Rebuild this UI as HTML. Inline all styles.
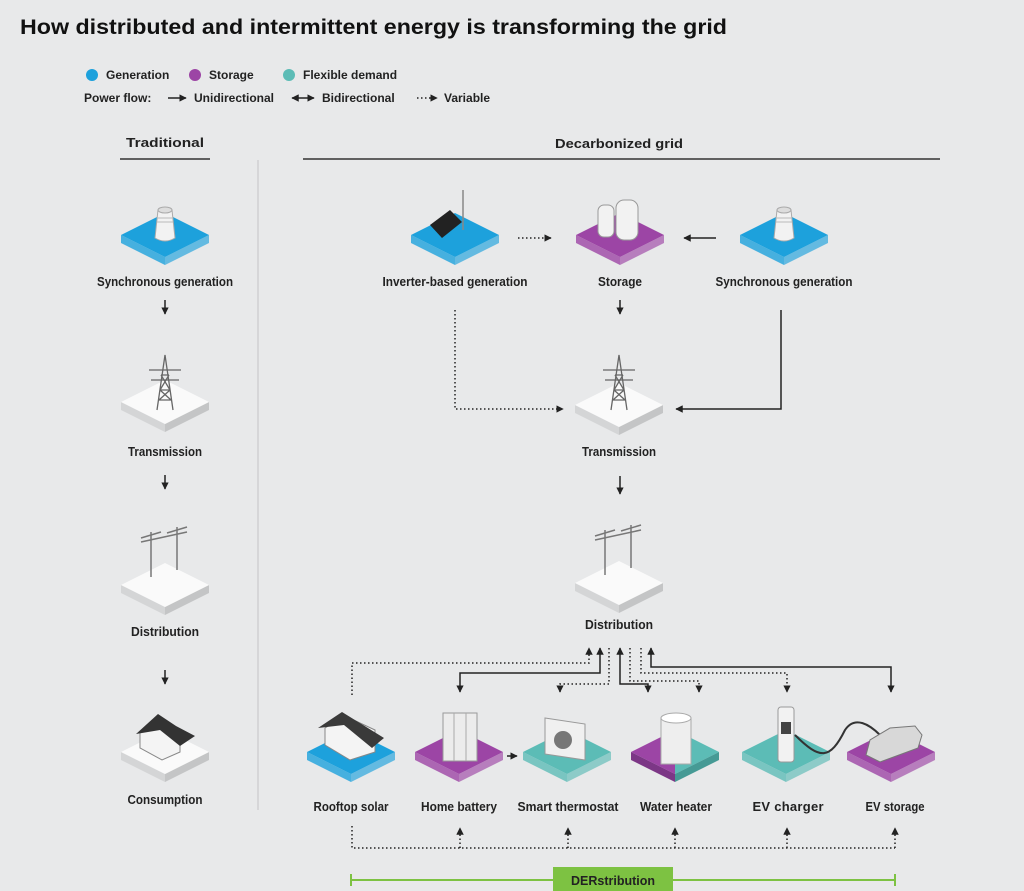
<!DOCTYPE html>
<html><head><meta charset="utf-8"><style>
html,body{margin:0;padding:0;background:#e8e9ea;}
svg{display:block}
text{font-family:"Liberation Sans Narrow","Liberation Sans",sans-serif;font-weight:bold;fill:#222;}
.l{font-size:13px;text-anchor:middle;}
</style></head><body>
<svg width="1024" height="891" viewBox="0 0 1024 891" xmlns="http://www.w3.org/2000/svg">
<defs>
<marker id="a" viewBox="0 0 10 10" refX="9" refY="5" markerWidth="5" markerHeight="5" orient="auto-start-reverse"><path d="M0,0L10,5L0,10z" fill="#222"/></marker>
<g id="tile"><path d="M-44,0L0,22L0,30L-44,8z" fill="currentColor" opacity="0.8"/><path d="M44,0L0,22L0,30L44,8z" fill="currentColor" opacity="0.65"/><path d="M-44,0L0,-22L44,0L0,22z" fill="currentColor"/></g>
<g id="wtile"><path d="M-44,0L0,22L0,30L-44,8z" fill="#d4d5d6"/><path d="M44,0L0,22L0,30L44,8z" fill="#c4c5c6"/><path d="M-44,0L0,-22L44,0L0,22z" fill="#fafafa"/></g>
<g id="tower" fill="none" stroke="#666" stroke-width="1.3"><path d="M-8,10L0,-45L8,10M-5,-10L5,-10M-6,0L6,0M-4,-25L4,-25M-16,-30L16,-30M-14,-20L14,-20M-5,-10L6,0M5,-10L-6,0M-4,-25L5,-10M4,-25L-5,-10"/></g>
<g id="poles" fill="none" stroke="#777" stroke-width="1.5"><path d="M-14,5L-14,-40M12,-2L12,-45M-24,-34L-4,-40M2,-39L22,-45M-24,-30L22,-40"/></g>
<g id="cool"><path d="M-10,-2L-7,-30L7,-30L10,-2Q0,4 -10,-2z" fill="#f2f2f2" stroke="#aaa"/><ellipse cx="0" cy="-30" rx="7" ry="3" fill="#ddd" stroke="#aaa"/><path d="M-8,-22L8,-22M-8,-18L8,-18" stroke="#bbb"/></g>
</defs>
<text x="20" y="34" textLength="707" lengthAdjust="spacingAndGlyphs" style="font-family:'Liberation Sans',sans-serif;font-size:21px;font-weight:bold;fill:#111">How distributed and intermittent energy is transforming the grid</text>
<circle cx="92" cy="75" r="6" fill="#1da1dc"/><text x="106" y="79" font-size="12">Generation</text>
<circle cx="195" cy="75" r="6" fill="#9c45a5"/><text x="209" y="79" font-size="12">Storage</text>
<circle cx="289" cy="75" r="6" fill="#5cbcb6"/><text x="303" y="79" font-size="12">Flexible demand</text>
<text x="84" y="102" font-size="12">Power flow:</text>
<line x1="168" y1="98" x2="186" y2="98" stroke="#222" stroke-width="1.5" marker-end="url(#a)"/><text x="194" y="102" font-size="12">Unidirectional</text>
<line x1="292" y1="98" x2="314" y2="98" stroke="#222" stroke-width="1.5" marker-end="url(#a)" marker-start="url(#a)"/><text x="322" y="102" font-size="12">Bidirectional</text>
<line x1="417" y1="98" x2="437" y2="98" stroke="#222" stroke-width="1.5" stroke-dasharray="1.5,2.5" marker-end="url(#a)"/><text x="444" y="102" font-size="12">Variable</text>
<text x="165" y="147" class="l" font-size="15" textLength="78" lengthAdjust="spacingAndGlyphs">Traditional</text>
<line x1="120" y1="159" x2="210" y2="159" stroke="#333" stroke-width="1.5"/>
<text x="619" y="148" class="l" font-size="15" textLength="128" lengthAdjust="spacingAndGlyphs">Decarbonized grid</text>
<line x1="303" y1="159" x2="940" y2="159" stroke="#333" stroke-width="1.5"/>
<line x1="258" y1="160" x2="258" y2="810" stroke="#cfd0d1" stroke-width="1.5"/>
<use href="#tile" x="165" y="235" color="#1da1dc"/><use href="#cool" x="165" y="240"/>
<text x="165" y="286" class="l" textLength="136" lengthAdjust="spacingAndGlyphs">Synchronous generation</text>
<line x1="165" y1="300" x2="165" y2="314" stroke="#222" stroke-width="1.5" marker-end="url(#a)"/>
<use href="#wtile" x="165" y="402"/><use href="#tower" x="165" y="400"/>
<text x="165" y="456" class="l" textLength="74" lengthAdjust="spacingAndGlyphs">Transmission</text>
<line x1="165" y1="475" x2="165" y2="489" stroke="#222" stroke-width="1.5" marker-end="url(#a)"/>
<use href="#wtile" x="165" y="585"/><use href="#poles" x="165" y="572"/>
<text x="165" y="636" class="l" textLength="68" lengthAdjust="spacingAndGlyphs">Distribution</text>
<line x1="165" y1="670" x2="165" y2="684" stroke="#222" stroke-width="1.5" marker-end="url(#a)"/>
<use href="#wtile" x="165" y="752"/>
<path d="M140,748L140,732L160,722L180,732L180,752L162,760z" fill="#f4f4f4" stroke="#888"/><path d="M136,734L158,714L176,726L195,736L180,746L160,730z" fill="#333"/>
<text x="165" y="804" class="l" textLength="75" lengthAdjust="spacingAndGlyphs">Consumption</text>
<use href="#tile" x="455" y="235" color="#1da1dc"/>
<path d="M430,225L450,210L462,222L442,238z" fill="#222"/><line x1="463" y1="230" x2="463" y2="190" stroke="#888" stroke-width="1.5"/>
<use href="#tile" x="620" y="235" color="#9c45a5"/>
<rect x="598" y="205" width="16" height="32" rx="6" fill="#f2f2f2" stroke="#999"/><rect x="616" y="200" width="22" height="40" rx="8" fill="#f2f2f2" stroke="#999"/>
<use href="#tile" x="784" y="235" color="#1da1dc"/><use href="#cool" x="784" y="240"/>
<text x="455" y="286" class="l" textLength="145" lengthAdjust="spacingAndGlyphs">Inverter-based generation</text>
<text x="620" y="286" class="l" textLength="44" lengthAdjust="spacingAndGlyphs">Storage</text>
<text x="784" y="286" class="l" textLength="137" lengthAdjust="spacingAndGlyphs">Synchronous generation</text>
<line x1="518" y1="238" x2="551" y2="238" stroke="#222" stroke-width="1.5" stroke-dasharray="1.5,2.5" marker-end="url(#a)"/>
<line x1="716" y1="238" x2="684" y2="238" stroke="#222" stroke-width="1.5" marker-end="url(#a)"/>
<line x1="620" y1="300" x2="620" y2="314" stroke="#222" stroke-width="1.5" marker-end="url(#a)"/>
<path d="M455,310L455,409L563,409" fill="none" stroke="#222" stroke-width="1.5" stroke-dasharray="1.5,2.5" marker-end="url(#a)"/>
<path d="M781,310L781,409L676,409" fill="none" stroke="#222" stroke-width="1.5" marker-end="url(#a)"/>
<use href="#wtile" x="619" y="405"/><use href="#tower" x="619" y="400"/>
<text x="619" y="456" class="l" textLength="74" lengthAdjust="spacingAndGlyphs">Transmission</text>
<line x1="620" y1="476" x2="620" y2="494" stroke="#222" stroke-width="1.5" marker-end="url(#a)"/>
<use href="#wtile" x="619" y="583"/><use href="#poles" x="619" y="570"/>
<text x="619" y="629" class="l" textLength="68" lengthAdjust="spacingAndGlyphs">Distribution</text>
<g fill="none" stroke="#222" stroke-width="1.5">
<path d="M352,695L352,663L589,663L589,648" stroke-dasharray="1.5,2.5" marker-end="url(#a)"/>
<path d="M600,648L600,673L460,673L460,692" marker-start="url(#a)" marker-end="url(#a)"/>
<path d="M609,648L609,684L560,684L560,692" stroke-dasharray="1.5,2.5" marker-end="url(#a)"/>
<path d="M620,648L620,684L648,684L648,692" marker-start="url(#a)" marker-end="url(#a)"/>
<path d="M630,648L630,681L699,681L699,692" stroke-dasharray="1.5,2.5" marker-end="url(#a)"/>
<path d="M641,648L641,673L787,673L787,692" stroke-dasharray="1.5,2.5" marker-end="url(#a)"/>
<path d="M651,648L651,667L891,667L891,692" marker-start="url(#a)" marker-end="url(#a)"/>
</g>
<use href="#tile" x="351" y="752" color="#1da1dc"/>
<path d="M325,745L325,728L345,716L375,730L375,752L350,760z" fill="#f4f4f4" stroke="#888"/><path d="M318,728L342,712L384,738L372,748L344,725z" fill="#3a3a3a"/>
<use href="#tile" x="459" y="752" color="#9c45a5"/>
<rect x="443" y="713" width="34" height="48" fill="#ececec" stroke="#999"/><path d="M454,713V761M466,713V761" stroke="#aaa"/>
<line x1="507" y1="756" x2="517" y2="756" stroke="#222" stroke-width="1.5" marker-end="url(#a)"/>
<use href="#tile" x="567" y="752" color="#5cbcb6"/>
<path d="M545,718L585,724L585,760L545,754z" fill="#f0f0f0" stroke="#999"/><circle cx="563" cy="740" r="9" fill="#777"/>
<path d="M631,752L675,730L675,774z" fill="#9c45a5"/><path d="M719,752L675,730L675,774z" fill="#5cbcb6"/>
<path d="M631,752L675,774L675,782L631,760z" fill="#7c3786"/><path d="M719,752L675,774L675,782L719,760z" fill="#469a95"/>
<rect x="661" y="718" width="30" height="46" fill="#eee" stroke="#aaa"/><ellipse cx="676" cy="718" rx="15" ry="5" fill="#fff" stroke="#aaa"/>
<use href="#tile" x="786" y="752" color="#5cbcb6"/>
<rect x="778" y="707" width="16" height="55" rx="3" fill="#f2f2f2" stroke="#999"/><rect x="781" y="722" width="10" height="12" fill="#444"/>
<path d="M795,735C820,760 830,760 845,730C855,715 870,725 880,735" fill="none" stroke="#333" stroke-width="2"/>
<use href="#tile" x="891" y="752" color="#9c45a5"/>
<path d="M866,755L870,740L890,728L915,726L922,735L918,748L880,762z" fill="#d8d8d8" stroke="#777"/>
<text x="351" y="811" class="l" textLength="75" lengthAdjust="spacingAndGlyphs">Rooftop solar</text>
<text x="459" y="811" class="l" textLength="76" lengthAdjust="spacingAndGlyphs">Home battery</text>
<text x="568" y="811" class="l" textLength="101" lengthAdjust="spacingAndGlyphs">Smart thermostat</text>
<text x="676" y="811" class="l" textLength="72" lengthAdjust="spacingAndGlyphs">Water heater</text>
<text x="788" y="811" class="l" textLength="71" lengthAdjust="spacing">EV charger</text>
<text x="895" y="811" class="l" textLength="59" lengthAdjust="spacingAndGlyphs">EV storage</text>
<g fill="none" stroke="#222" stroke-width="1.5" stroke-dasharray="1.5,2.5">
<path d="M352,826L352,848L895,848"/>
<path d="M460,848L460,828" marker-end="url(#a)"/><path d="M568,848L568,828" marker-end="url(#a)"/><path d="M675,848L675,828" marker-end="url(#a)"/><path d="M787,848L787,828" marker-end="url(#a)"/><path d="M895,848L895,828" marker-end="url(#a)"/>
</g>
<g stroke="#7dc242" stroke-width="2"><line x1="351" y1="880" x2="895" y2="880"/><line x1="351" y1="874" x2="351" y2="886"/><line x1="895" y1="874" x2="895" y2="886"/></g>
<rect x="553" y="867" width="120" height="24" fill="#7dc242"/>
<text x="613" y="885" class="l" font-size="14" textLength="84" lengthAdjust="spacingAndGlyphs">DERstribution</text>
</svg>
</body></html>
